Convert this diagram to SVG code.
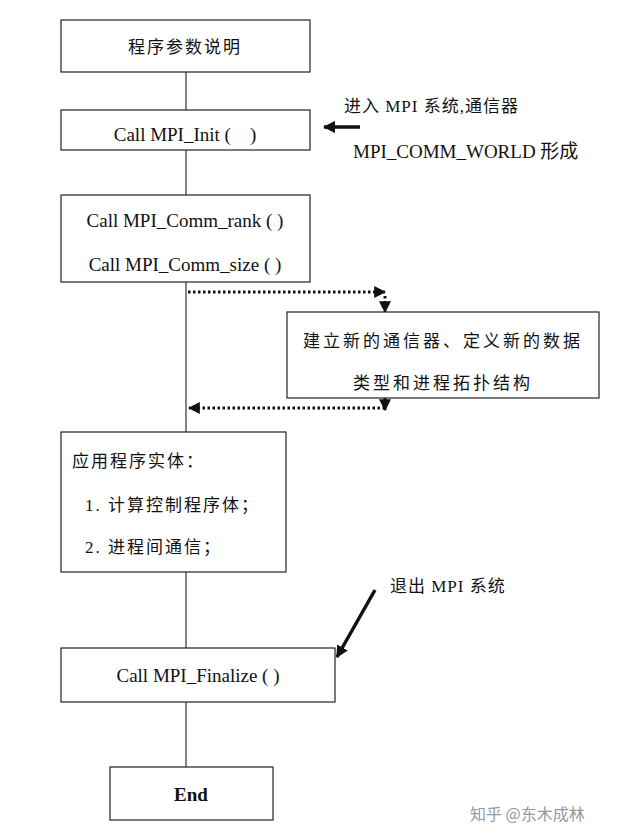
<svg xmlns="http://www.w3.org/2000/svg" width="621" height="840" viewBox="0 0 621 840">
<style>
.b{fill:#fff;stroke:#222;stroke-width:1.2}
.t{font-family:"Liberation Serif","Noto Sans CJK SC",serif;font-size:17px;fill:#111}
.e{font-size:19px}
.c{text-anchor:middle}
.l{stroke:#333;stroke-width:1.2;fill:none}
.d{stroke:#111;stroke-width:3;stroke-dasharray:2.5 2.5;fill:none}
</style>
<defs>
<marker id="a" viewBox="0 0 10 10" refX="9" refY="5" markerWidth="4" markerHeight="4" orient="auto"><path d="M0,0L10,5L0,10z" fill="#111"/></marker>
<marker id="k" viewBox="0 0 10 10" refX="9" refY="5" markerWidth="3.5" markerHeight="3.5" orient="auto"><path d="M0,0L10,5L0,10z" fill="#111"/></marker>
</defs>
<rect width="621" height="840" fill="#fff"/>
<g id="connectors">
<path class="l" d="M186,72V110M186,150V195M186,282V432M186,572V648M186,702V767"/>
<path class="d" d="M188,292H385" marker-end="url(#a)"/>
<path class="d" d="M385,296V312" marker-end="url(#a)"/>
<path class="d" d="M385,398V410" marker-end="url(#a)"/>
<path class="d" d="M385,408H189" marker-end="url(#a)"/>
<path d="M360,127H324" stroke="#111" stroke-width="3.5" marker-end="url(#k)"/>
<path d="M375,590L337,657" stroke="#111" stroke-width="3.5" marker-end="url(#k)"/>
</g>
<g id="n1"><rect class="b" x="61" y="20" width="249" height="52"/><text class="t c" x="185" y="53" letter-spacing="2">程序参数说明</text></g>
<g id="n2"><rect class="b" x="61" y="110" width="249" height="40"/><text class="t e c" x="185" y="141" xml:space="preserve">Call MPI_Init (    )</text></g>
<g id="n3"><rect class="b" x="61" y="195" width="249" height="87"/><text class="t e c" x="185" y="227">Call MPI_Comm_rank ( )</text><text class="t e c" x="185" y="271">Call MPI_Comm_size ( )</text></g>
<g id="n4"><rect class="b" x="287" y="312" width="312" height="86"/><text class="t c" x="443" y="347" letter-spacing="3">建立新的通信器、定义新的数据</text><text class="t c" x="443" y="389" letter-spacing="3">类型和进程拓扑结构</text></g>
<g id="n5"><rect class="b" x="61" y="432" width="225" height="140"/><text class="t" x="72" y="467" letter-spacing="2">应用程序实体：</text><text class="t" x="85" y="511" letter-spacing="2">1. 计算控制程序体；</text><text class="t" x="85" y="553" letter-spacing="2">2. 进程间通信；</text></g>
<g id="n6"><rect class="b" x="61" y="648" width="274" height="54"/><text class="t e c" x="198" y="682">Call MPI_Finalize ( )</text></g>
<g id="n7"><rect class="b" x="110" y="767" width="163" height="53"/><text class="t e c" x="191" y="801" font-weight="bold">End</text></g>
<g id="notes">
<text class="t" x="344" y="112" letter-spacing="1">进入 MPI 系统,通信器</text>
<text class="t e" x="353" y="158">MPI_COMM_WORLD 形成</text>
<text class="t" x="390" y="592" letter-spacing="1">退出 MPI 系统</text>
<text x="470" y="820" font-family="'Noto Sans CJK SC',sans-serif" font-size="16" fill="#999">知乎 @东木成林</text>
</g>
</svg>
